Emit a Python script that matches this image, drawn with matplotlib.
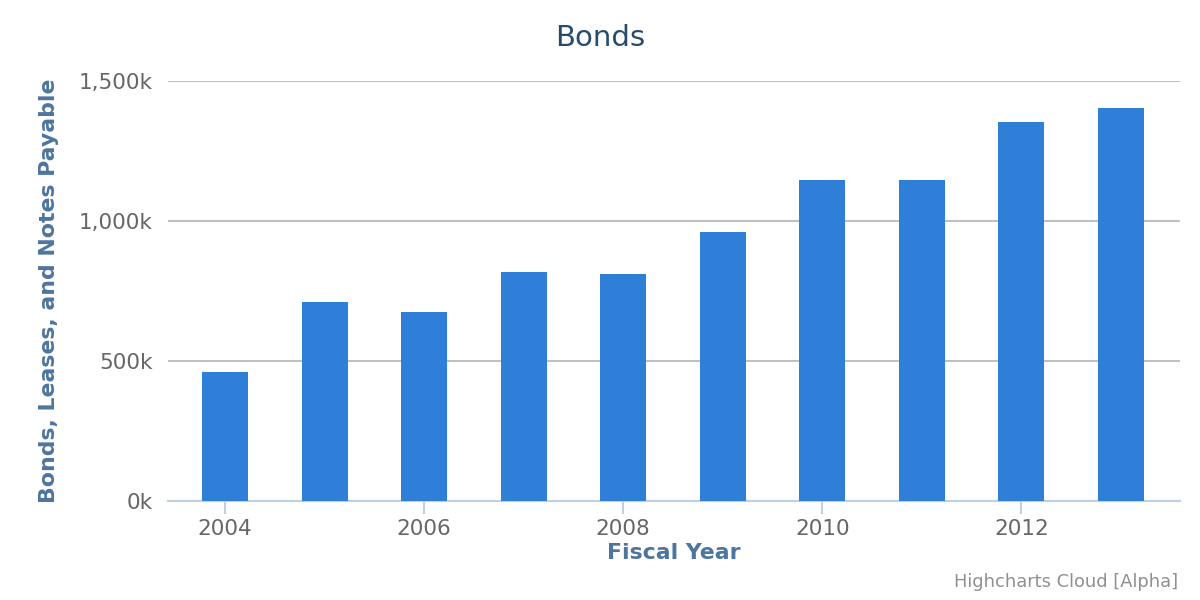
import matplotlib
matplotlib.use("Agg")
import matplotlib.pyplot as plt
from matplotlib.ticker import FuncFormatter

# data
years = [2004, 2005, 2006, 2007, 2008, 2009, 2010, 2011, 2012, 2013]
bonds = [460000, 711000, 675000, 818000, 811000, 961000, 1146000, 1146000, 1354000, 1404000]
tick_years = [2004, 2006, 2008, 2010, 2012]

fig = plt.figure(figsize=(12, 6), dpi=100)
ax = fig.add_axes([168 / 1200, 99 / 600, 1012 / 1200, 420 / 600])

ax.bar(years, bonds, width=0.462, color="#2f7ed8", zorder=3)

ax.set_xlim(2003.427, 2013.593)
ax.set_ylim(0, 1500000)
ax.set_yticks([0, 500000, 1000000, 1500000])
ax.yaxis.set_major_formatter(FuncFormatter(lambda v, p: f"{int(v / 1000):,}k"))
ax.set_xticks(tick_years)

ax.grid(axis="y", color="#c0c0c0", linewidth=1.5, zorder=0)
for s in ["top", "right", "left"]:
    ax.spines[s].set_visible(False)
ax.spines["bottom"].set_color("#c0d0e0")
ax.spines["bottom"].set_linewidth(1.5)

ax.tick_params(axis="y", length=0, pad=11, labelsize=15.5, labelcolor="#666666")
ax.tick_params(axis="x", length=9, width=1.5, color="#c0d0e0", pad=4,
               labelsize=15.5, labelcolor="#666666")

ax.set_xlabel("Fiscal Year", fontsize=15.8, fontweight="bold", color="#4d759e", labelpad=3)
ax.set_ylabel("Bonds, Leases, and Notes Payable", fontsize=15.8, fontweight="bold",
              color="#4d759e", labelpad=14)

fig.text(0.5, 1 - 38 / 600, "Bonds", ha="center", va="center", fontsize=21, color="#274b6d")
fig.text(1178 / 1200, 1 - 582 / 600, "Highcharts Cloud [Alpha]", ha="right", va="center",
         fontsize=12.9, color="#909090")

fig.savefig("out.png", dpi=100)
